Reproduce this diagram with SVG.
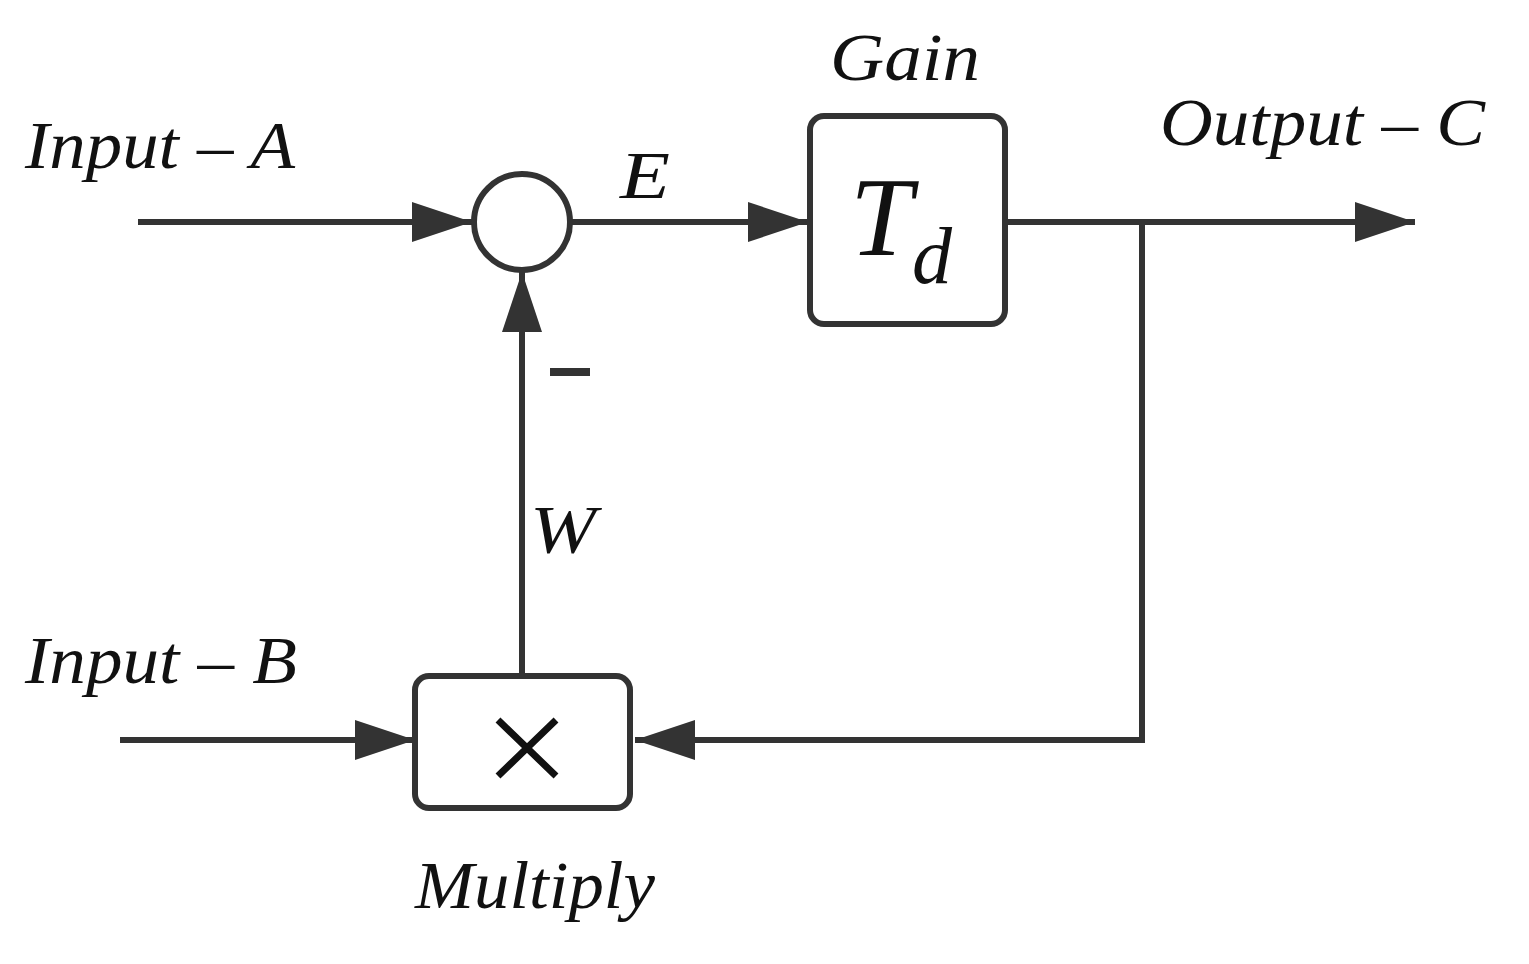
<svg xmlns="http://www.w3.org/2000/svg" width="1529" height="964" viewBox="0 0 1529 964">
<style>
.t{font-family:"Liberation Serif",serif;font-style:italic;fill:#111}
.l{stroke:#333;stroke-width:6;fill:none}
.b{stroke:#333;stroke-width:6;fill:#fff}
</style>
<defs>
<marker id="a" markerUnits="userSpaceOnUse" markerWidth="60" markerHeight="40" refX="60" refY="20" orient="auto">
<path d="M0,0 L60,20 L0,40 Z" fill="#333"/>
</marker>
</defs>
<rect width="1529" height="964" fill="#fff"/>
<g id="connectors">
<line class="l" x1="138" y1="222" x2="472" y2="222" marker-end="url(#a)"/>
<line class="l" x1="570" y1="222" x2="808" y2="222" marker-end="url(#a)"/>
<line class="l" x1="1005" y1="222" x2="1415" y2="222" marker-end="url(#a)"/>
<polyline class="l" points="1142,222 1142,740 635,740" marker-end="url(#a)"/>
<line class="l" x1="120" y1="740" x2="415" y2="740" marker-end="url(#a)"/>
<line class="l" x1="522" y1="676" x2="522" y2="272" marker-end="url(#a)"/>
<rect x="550" y="368" width="40" height="8" fill="#333"/>
<text class="t" x="530" y="552" font-size="68" textLength="66" lengthAdjust="spacingAndGlyphs">W</text>
<text class="t" x="620" y="198" font-size="68" textLength="50" lengthAdjust="spacingAndGlyphs">E</text>
</g>
<g id="sum"><circle class="b" cx="522" cy="222" r="48"/></g>
<g id="gain">
<rect class="b" x="810" y="116" width="195" height="208" rx="14"/>
<text class="t" x="850" y="255" font-size="112">T</text>
<text class="t" x="912" y="283" font-size="80">d</text>
<text class="t" x="830" y="80" font-size="68" textLength="150" lengthAdjust="spacingAndGlyphs">Gain</text>
</g>
<g id="multiply">
<rect class="b" x="415" y="676" width="215" height="132" rx="14"/>
<path d="M498,720 L556,776 M556,720 L498,776" stroke="#111" stroke-width="7" fill="none"/>
<text class="t" x="415" y="908" font-size="68" textLength="240" lengthAdjust="spacingAndGlyphs">Multiply</text>
</g>
<g id="labels">
<text class="t" x="25" y="168" font-size="68" textLength="270" lengthAdjust="spacingAndGlyphs">Input – A</text>
<text class="t" x="25" y="683" font-size="68" textLength="272" lengthAdjust="spacingAndGlyphs">Input – B</text>
<text class="t" x="1160" y="145" font-size="68" textLength="325" lengthAdjust="spacingAndGlyphs">Output – C</text>
</g>
</svg>
